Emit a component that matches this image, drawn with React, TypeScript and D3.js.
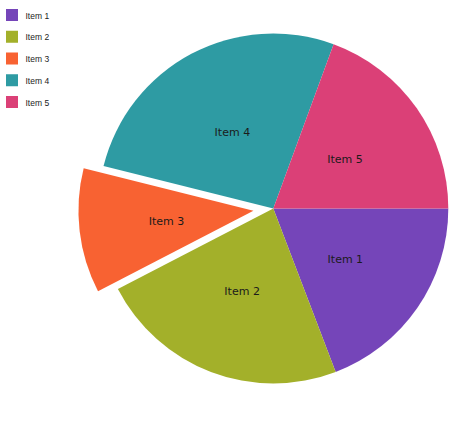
import React from "react";
import * as d3 from "d3";

const categories = ["Item 1", "Item 2", "Item 3", "Item 4", "Item 5"];
const values = [19.2, 23.2, 11.5, 26.7, 19.4];
const colors = ["#7545B9", "#A3B02A", "#F86232", "#2E9BA3", "#DB4077"];
const explodedItem = "Item 3";

const width = 474;
const height = 424;
const cx = 273.3;
const cy = 208.5;
const radius = 175;
const explodeOffset = 20;

type Slice = { name: string; value: number; color: string };

const slices: Slice[] = categories.map((name, i) => ({
  name,
  value: values[i],
  color: colors[i],
}));

export default function App() {
  // start at 3 o'clock, go clockwise
  const pie = d3
    .pie<Slice>()
    .value((d) => d.value)
    .sort(null)
    .startAngle(Math.PI / 2)
    .endAngle(Math.PI / 2 + 2 * Math.PI);

  const arc = d3.arc<d3.PieArcDatum<Slice>>().innerRadius(0).outerRadius(radius);
  const arcs = pie(slices);

  return (
    <svg
      width={width}
      height={height}
      style={{ position: "absolute", left: 0, top: 0, background: "#fff" }}
    >
      <g transform={`translate(${cx},${cy})`}>
        {arcs.map((a) => {
          const mid = (a.startAngle + a.endAngle) / 2;
          const off = a.data.name === explodedItem ? explodeOffset : 0;
          const ox = Math.sin(mid) * off;
          const oy = -Math.cos(mid) * off;
          const lr = radius / 2;
          return (
            <g key={a.data.name} transform={`translate(${ox},${oy})`}>
              <path d={arc(a) || ""} fill={a.data.color} />
              <text
                x={Math.sin(mid) * lr}
                y={-Math.cos(mid) * lr + 1}
                textAnchor="middle"
                dominantBaseline="central"
                fontFamily="DejaVu Sans, sans-serif"
                fontSize={11}
                fill="#1b1b1b"
              >
                {a.data.name}
              </text>
            </g>
          );
        })}
      </g>
      <g>
        {slices.map((s, i) => (
          <g key={s.name} transform={`translate(6,${9 + i * 21.75})`}>
            <rect width={12} height={12} fill={s.color} />
            <text
              x={19.5}
              y={9.5}
              fontFamily="Liberation Sans, Arial, sans-serif"
              fontSize={8.5}
              fill="#222"
            >
              {s.name}
            </text>
          </g>
        ))}
      </g>
    </svg>
  );
}
